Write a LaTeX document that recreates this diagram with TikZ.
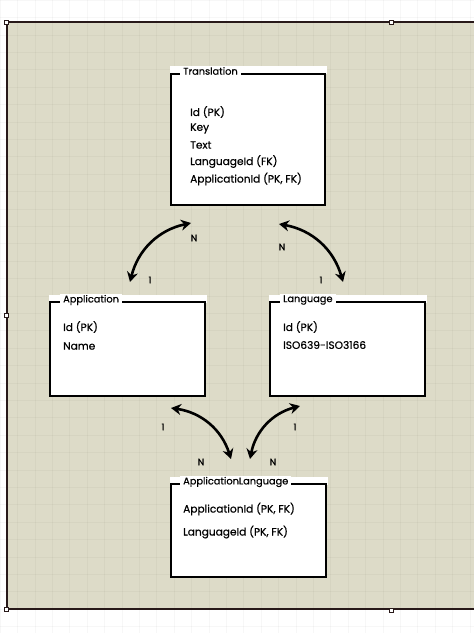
\documentclass[tikz,border=0pt]{standalone}
\usepackage{fontspec}
\setmainfont{Poppins}[FakeBold=0.6]
\usetikzlibrary{arrows.meta}
\definecolor{beige}{RGB}{221,219,200}
\definecolor{frame}{RGB}{40,25,25}
\begin{document}
\begin{tikzpicture}[x=1pt,y=-1pt,
  table/.style={draw=black,line width=1.8pt,fill=white,inner sep=0pt},
  ttl/.style={fill=white,inner xsep=3pt,inner ysep=1pt,anchor=west,font=\fontsize{9.8}{10}\selectfont},
  fld/.style={anchor=west,inner sep=0pt,font=\fontsize{10.6}{11}\selectfont},
  card/.style={inner sep=0pt,font=\fontsize{9.5}{10}\selectfont},
  rel/.style={line width=2.6pt,{Stealth[length=10pt,width=11pt]}-{Stealth[length=10pt,width=11pt]}},
  handle/.style={draw=frame,fill=white,line width=0.5pt,minimum size=4pt,inner sep=0pt}]
\useasboundingbox (0,0) rectangle (474,633);
% background
\fill[white] (0,0) rectangle (474,633);
\fill[beige] (7,22) rectangle (480,609);
\foreach \i in {0,...,28} {
  \draw[black,opacity=0.03,line width=0.6pt] (\i*17.4,0) -- (\i*17.4,633);
}
\foreach \j in {0,...,37} {
  \draw[black,opacity=0.03,line width=0.6pt] (0,\j*17.4) -- (474,\j*17.4);
}
\draw[frame,line width=1.6pt] (480,22) -- (7,22) -- (7,609) -- (480,609);
\node[handle] (h1) at (6,22) {};
\node[handle] (h2) at (391,22) {};
\node[handle] (h3) at (6,315) {};
\node[handle] (h4) at (6,609) {};
\node[handle] (h5) at (391,610) {};
% white strips above boxes
\fill[white] (170,66) rectangle (327,74);
\fill[white] (49,295) rectangle (207,303);
\fill[white] (269,295) rectangle (427,303);
\fill[white] (170,477) rectangle (328,485);
% tables
\node[table,minimum width=154,minimum height=131] (trans) at (248,139.5) {};
\node[table,minimum width=155,minimum height=94] (app) at (127.5,349) {};
\node[table,minimum width=155,minimum height=94] (lang) at (347.5,349) {};
\node[table,minimum width=155,minimum height=93] (al) at (248.5,530.5) {};
% titles
\node[ttl] (transT) at (180,71) {Translation};
\node[ttl] (appT) at (60,300) {Application};
\node[ttl] (langT) at (280,300) {Language};
\node[ttl] (alT) at (180,482) {ApplicationLanguage};
% fields
\node[fld] (t1) at (190,112) {Id (PK)};
\node[fld] (t2) at (190,128.5) {Key};
\node[fld] (t3) at (190,145) {Text};
\node[fld] (t4) at (190,161.5) {LanguageId (FK)};
\node[fld] (t5) at (190,179) {ApplicationId (PK, FK)};
\node[fld] (a1) at (63,327) {Id (PK)};
\node[fld] (a2) at (63,346) {Name};
\node[fld] (l1) at (283,327) {Id (PK)};
\node[fld] (l2) at (283,345) {ISO639-ISO3166};
\node[fld] (x1) at (183,509) {ApplicationId (PK, FK)};
\node[fld] (x2) at (183,532) {LanguageId (PK, FK)};
% relation end points
\coordinate (pA1) at (130,282);
\coordinate (pA2) at (191,223);
\coordinate (pB1) at (279,224);
\coordinate (pB2) at (343,282);
\coordinate (pC1) at (171,408);
\coordinate (pC2) at (231,459);
\coordinate (pD1) at (250,459);
\coordinate (pD2) at (300,406);
\draw[rel] (pA1) to[bend left=32] (pA2);
\draw[rel] (pB1) to[bend left=32] (pB2);
\draw[rel] (pC1) to[bend left=32] (pC2);
\draw[rel] (pD1) to[bend left=32] (pD2);
% cardinalities
\node[card] (cA1) at (150,280) {1};
\node[card] (cA2) at (194,238) {N};
\node[card] (cB1) at (282,247) {N};
\node[card] (cB2) at (321,280) {1};
\node[card] (cC1) at (163,427) {1};
\node[card] (cC2) at (201,462) {N};
\node[card] (cD1) at (295,427) {1};
\node[card] (cD2) at (273,462) {N};
\end{tikzpicture}
\end{document}
